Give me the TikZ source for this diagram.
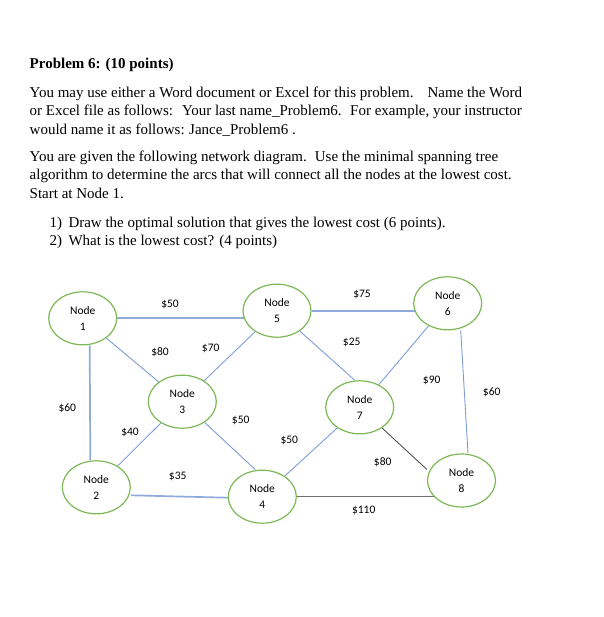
\documentclass[tikz,border=0pt]{standalone}
\usepackage{fontspec}
\setmainfont{Liberation Serif}
\newfontfamily\calib{Carlito}
\usetikzlibrary{shapes.geometric,backgrounds}
\definecolor{nodegreen}{HTML}{7DB856}
\definecolor{edgeblue}{HTML}{7C9CD8}
\definecolor{edgelight}{HTML}{8FAADC}
\definecolor{edgegrey}{HTML}{555555}
\begin{document}
\begin{tikzpicture}[x=1pt,y=-1pt,
  netnode/.style={ellipse, draw=nodegreen, line width=1.2pt, fill=white,
    minimum width=68pt, minimum height=53pt, inner sep=0pt, align=center,
    font=\calib\fontsize{11.5}{16.3}\selectfont},
  cost/.style={font=\calib\fontsize{11.5}{14}\selectfont, inner sep=0pt},
  txt/.style={anchor=base west, inner sep=0pt, font=\fontsize{15}{18.3}\selectfont},
  thinedge/.style={draw=edgeblue, line width=0.9pt},
  thickedge/.style={draw=edgelight, line width=1.7pt},
  greyedge/.style={draw=edgegrey, line width=0.9pt},
  greythick/.style={draw=edgegrey!85, line width=1.5pt}]
\path[use as bounding box] (0,0) rectangle (603,617);

% text
\node[txt, font=\bfseries\fontsize{15}{18.3}\selectfont] (title) at (29.5,68.3) {Problem 6: (10 points)};
\node[txt] (p1a) at (29.5,97.7) {You may use either a Word document or Excel for this problem.\hspace{14pt}Name the Word};
\node[txt] (p1b) at (29.5,115.9) {or Excel file as follows:\hspace{9pt}Your last name\_Problem6.\hspace{8.5pt}For example, your instructor};
\node[txt] (p1c) at (29.5,134.1) {would name it as follows:\hspace{4.5pt}Jance\_Problem6 .};
\node[txt] (p2a) at (29.5,161.7) {You are given the following network diagram.\hspace{8pt}Use the minimal spanning tree};
\node[txt] (p2b) at (29.5,180) {algorithm to determine the arcs that will connect all the nodes at the lowest cost.};
\node[txt] (p2c) at (29.5,198.3) {Start at Node 1.};
\node[txt] (l1n) at (49.3,227.3) {1)};
\node[txt] (l1) at (68.3,227.3) {Draw the optimal solution that gives the lowest cost (6 points).};
\node[txt] (l2n) at (49.3,245.6) {2)};
\node[txt] (l2) at (68.3,245.6) {What is the lowest cost? (4 points)};

% nodes
\node[netnode] (n1) at (82.7,318.3) {Node\\1};
\node[netnode] (n5) at (277,310.7) {Node\\5};
\node[netnode] (n6) at (447.7,303.3) {Node\\6};
\node[netnode] (n3) at (182.3,401.7) {Node\\3};
\node[netnode] (n7) at (359.7,407.3) {Node\\7};
\node[netnode] (n2) at (96.3,487.3) {Node\\2};
\node[netnode] (n4) at (262.3,496.7) {Node\\4};
\node[netnode] (n8) at (461.5,480.5) {Node\\8};

% edges
\begin{pgfonlayer}{background}
\draw[thickedge] (n1) -- (n1 -| n5);
\draw[thickedge] ([xshift=7pt]n1.south) -- ([xshift=-6pt]n2.north);
\draw[thickedge] (n5) -- (n5 -| n6);
\draw[thickedge] ([yshift=-8pt]n2.east) -- ([yshift=-1pt]n4.west);
\draw[thinedge] (n1) -- (n3);
\draw[thinedge] (n3) -- (n5);
\draw[thinedge] (n3) -- (n2);
\draw[thinedge] (n3) -- ([xshift=-7pt]n4.north);
\draw[thinedge] (n4) -- (n7);
\draw[thinedge] (n5) -- ([xshift=-5pt]n7.north);
\draw[thinedge] (n7) -- (n6);
\draw[thinedge] ([xshift=13pt]n6.south) -- ([xshift=6.5pt]n8.north);
\draw[greyedge] (n7) -- ([yshift=11pt]n8.west);
\draw[greythick] (n4) -- (n4 -| n8);
\end{pgfonlayer}

% costs
\node[cost] (c15) at (170,304) {\$50};
\node[cost] (c13) at (160,352.7) {\$80};
\node[cost] (c35) at (210.7,348.7) {\$70};
\node[cost] (c12) at (67.3,408.7) {\$60};
\node[cost] (c23) at (130,432) {\$40};
\node[cost] (c34) at (240.7,420) {\$50};
\node[cost] (c47) at (289.3,440.7) {\$50};
\node[cost] (c24) at (177.7,476) {\$35};
\node[cost] (c56) at (362,294) {\$75};
\node[cost] (c57) at (351.7,342.7) {\$25};
\node[cost] (c67) at (431.7,380.3) {\$90};
\node[cost] (c68) at (491.7,392.7) {\$60};
\node[cost] (c78) at (382.7,462) {\$80};
\node[cost] (c48) at (363.7,510.7) {\$110};
\end{tikzpicture}
\end{document}
